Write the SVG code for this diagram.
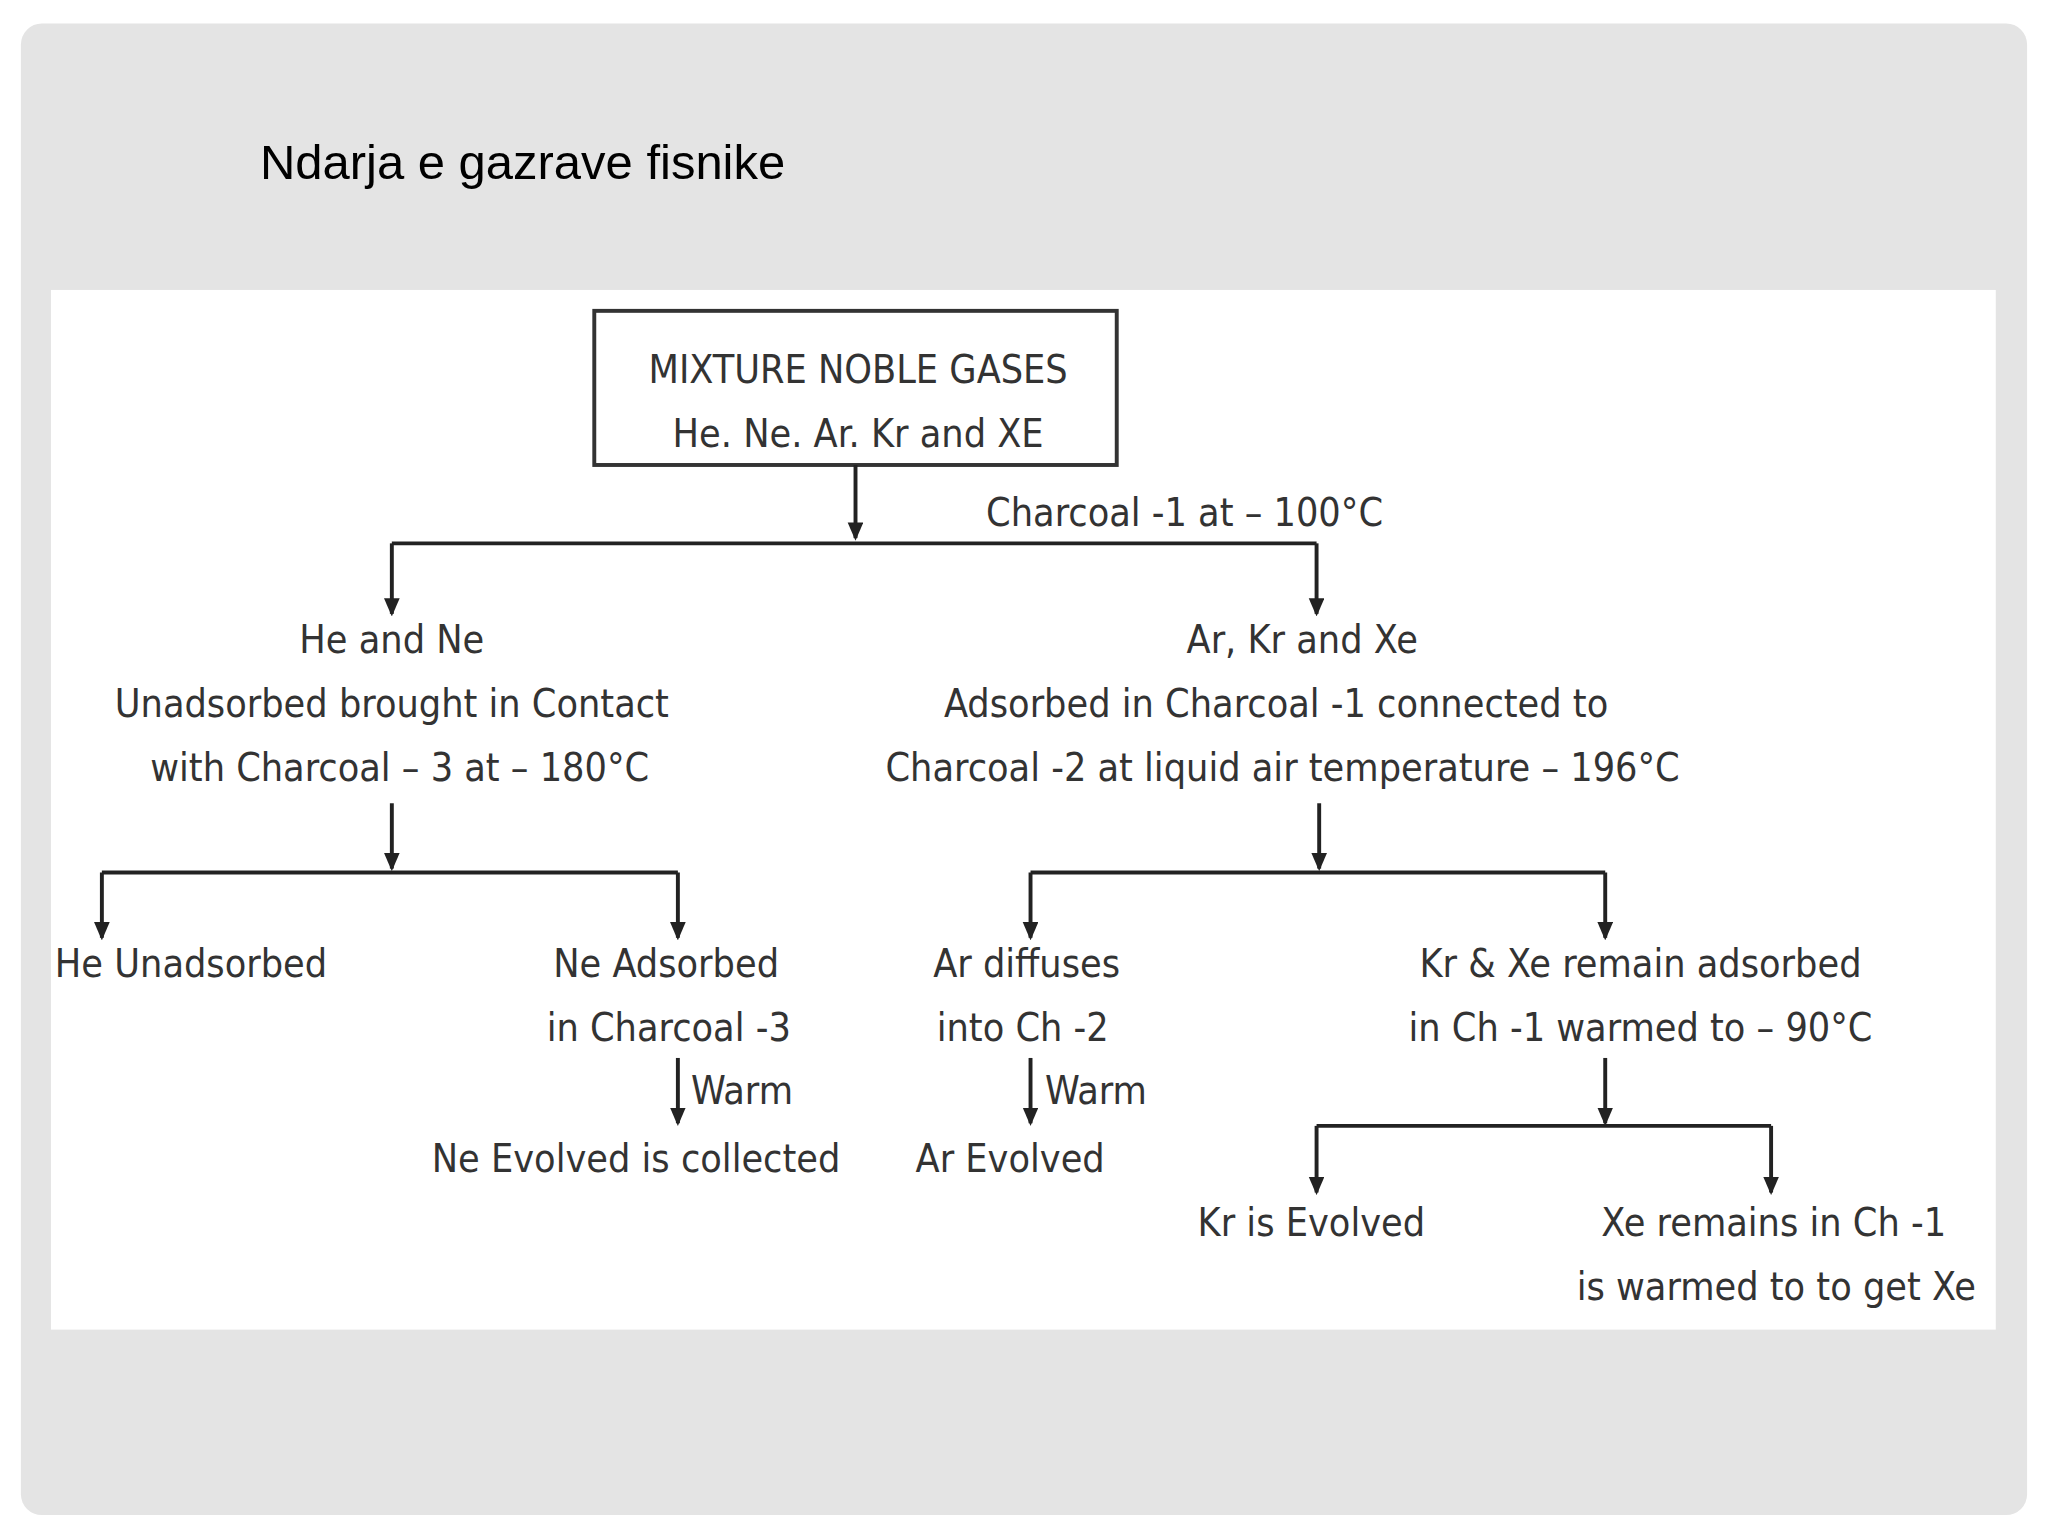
<svg xmlns="http://www.w3.org/2000/svg" width="2048" height="1536" viewBox="0 0 2048 1536">
<defs>
<marker id="ah" markerWidth="14" markerHeight="14" refX="12" refY="6" orient="auto" markerUnits="userSpaceOnUse"><path d="M0,0 L14,6 L0,12 z" fill="#222"/></marker>
<style>
.t{font-family:"Liberation Sans Narrow","DejaVu Sans Condensed","Liberation Sans",sans-serif;font-size:30px;fill:#333}
.c{text-anchor:middle}
.l{stroke:#222;stroke-width:3;fill:none}
.a{stroke:#222;stroke-width:3;fill:none;marker-end:url(#ah)}
</style>
</defs>
<rect width="2048" height="1536" fill="#fff"/>
<g transform="scale(1.30612)">
<rect x="16" y="18" width="1536" height="1142" rx="16" fill="#e4e4e4"/>
<text x="199" y="137" font-family="Liberation Sans,sans-serif" font-size="37.5" fill="#000">Ndarja e gazrave fisnike</text>
<rect x="39" y="222" width="1489" height="796" fill="#fff"/>
<g id="root"><rect x="455" y="238" width="400" height="118" fill="#fff" stroke="#333" stroke-width="3"/>
<text class="t c" x="657" y="293">MIXTURE NOBLE GASES</text><text class="t c" x="657" y="342">He. Ne. Ar. Kr and XE</text></g>
<g id="heNe"><text class="t c" x="300" y="500">He and Ne</text><text class="t c" x="300" y="549">Unadsorbed brought in Contact</text><text class="t c" x="306" y="598">with Charcoal – 3 at – 180°C</text></g>
<g id="arKrXe"><text class="t c" x="997" y="500">Ar, Kr and Xe</text><text class="t c" x="977" y="549">Adsorbed in Charcoal -1 connected to</text><text class="t c" x="982" y="598">Charcoal -2 at liquid air temperature – 196°C</text></g>
<g id="he"><text class="t" x="42" y="748">He Unadsorbed</text></g>
<g id="ne"><text class="t c" x="510" y="748">Ne Adsorbed</text><text class="t c" x="512" y="797">in Charcoal -3</text></g>
<g id="neEv"><text class="t c" x="487" y="897">Ne Evolved is collected</text></g>
<g id="ar"><text class="t c" x="786" y="748">Ar diffuses</text><text class="t c" x="783" y="797">into Ch -2</text></g>
<g id="arEv"><text class="t" x="701" y="897">Ar Evolved</text></g>
<g id="krxe"><text class="t c" x="1256" y="748">Kr &amp; Xe remain adsorbed</text><text class="t c" x="1256" y="797">in Ch -1 warmed to – 90°C</text></g>
<g id="kr"><text class="t c" x="1004" y="946">Kr is Evolved</text></g>
<g id="xe"><text class="t c" x="1358" y="946">Xe remains in Ch -1</text><text class="t c" x="1360" y="995">is warmed to to get Xe</text></g>
<g id="connectors">
<path class="a" d="M655,356 V412"/>
<path class="l" d="M300,416 H1008"/>
<path class="a" d="M300,416 V470"/><path class="a" d="M1008,416 V470"/>
<text class="t" x="755" y="403">Charcoal -1 at – 100°C</text>
<path class="a" d="M300,615 V665"/><path class="l" d="M78,668 H519"/>
<path class="a" d="M78,668 V718"/><path class="a" d="M519,668 V718"/>
<path class="a" d="M1010,615 V665"/><path class="l" d="M789,668 H1229"/>
<path class="a" d="M789,668 V718"/><path class="a" d="M1229,668 V718"/>
<path class="a" d="M519,810 V860"/><text class="t" x="529" y="845">Warm</text>
<path class="a" d="M789,810 V860"/><text class="t" x="800" y="845">Warm</text>
<path class="a" d="M1229,810 V860"/><path class="l" d="M1008,862 H1356"/>
<path class="a" d="M1008,862 V913"/><path class="a" d="M1356,862 V913"/>
</g>
</g>
</svg>
